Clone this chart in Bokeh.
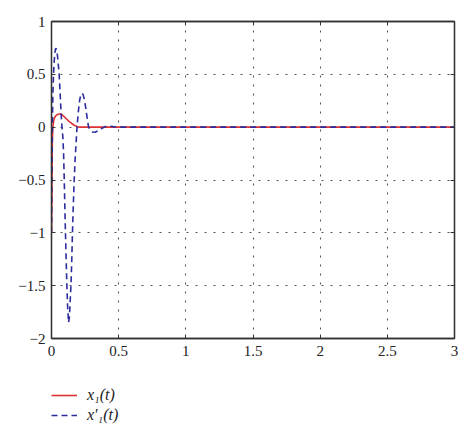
from bokeh.plotting import figure
from bokeh.layouts import column
from bokeh.models import Legend, LinearAxis, FixedTicker, CustomJSTickFormatter, Range1d
from bokeh.embed import file_html
from bokeh.resources import INLINE

# values
t_x1 = [0, 0.003, 0.006, 0.01, 0.015, 0.02, 0.03, 0.04, 0.05, 0.06, 0.065,
        0.075, 0.09, 0.11, 0.13, 0.15, 0.17, 0.19, 0.21, 0.25, 0.5, 1.0, 2.0, 3.0]
x1 = [-1.0, -0.6, -0.15, 0.0, 0.05, 0.08, 0.105, 0.118, 0.123, 0.125, 0.125,
      0.12, 0.105, 0.08, 0.055, 0.035, 0.018, 0.007, 0.0, 0.0, 0.0, 0.0, 0.0, 0.0]

t_dx1 = [0, 0.003, 0.006, 0.01, 0.015, 0.02, 0.025, 0.03, 0.035, 0.04, 0.045,
         0.05, 0.057, 0.065, 0.072, 0.078, 0.085, 0.09, 0.095, 0.1, 0.105, 0.11,
         0.115, 0.12, 0.127, 0.133, 0.14, 0.145, 0.15, 0.156, 0.162, 0.169,
         0.176, 0.184, 0.19, 0.2, 0.21, 0.22, 0.227, 0.235, 0.245, 0.255, 0.265,
         0.276, 0.29, 0.305, 0.325, 0.345, 0.37, 0.4, 0.43, 0.46, 0.5, 0.6,
         1.0, 1.5, 2.0, 2.5, 3.0]
dx1 = [-1.0, -0.55, -0.05, 0.3, 0.5, 0.62, 0.7, 0.74, 0.745, 0.72, 0.67,
       0.6, 0.5, 0.3, 0.12, 0.0, -0.1, -0.25, -0.5, -0.8, -1.05, -1.3,
       -1.52, -1.7, -1.85, -1.8, -1.62, -1.5, -1.3, -1.0, -0.75, -0.5,
       -0.3, -0.13, 0.0, 0.15, 0.26, 0.31, 0.32, 0.31, 0.26, 0.18, 0.09,
       0.0, -0.03, -0.045, -0.048, -0.035, -0.015, 0.005, 0.01, 0.005, 0.0, 0.0,
       0.0, 0.0, 0.0, 0.0, 0.0]

x_ticks = [0, 0.5, 1, 1.5, 2, 2.5, 3]
y_ticks = [-2, -1.5, -1, -0.5, 0, 0.5, 1]
labels = ["x\u2081(t)", "x\u2032\u2081(t)"]

FONT = "Liberation Serif"
AXIS_COLOR = "#333333"
RED = "#dd3333"
BLUE = "#2c2c9e"

p = figure(width=458, height=372, output_backend="svg", toolbar_location=None,
           x_range=Range1d(0, 3), y_range=Range1d(-2, 1),
           min_border_left=51, min_border_right=4, min_border_top=21,
           min_border_bottom=34)

minus_fmt = CustomJSTickFormatter(code="""
    return tick < 0 ? "\u2212" + String(Math.abs(tick)) : String(tick);
""")
blank_fmt = CustomJSTickFormatter(code='return "";')

p.outline_line_color = AXIS_COLOR
p.outline_line_width = 1.3

for ax in [p.xaxis[0], p.yaxis[0]]:
    ax.formatter = minus_fmt
    ax.axis_line_color = AXIS_COLOR
    ax.axis_line_width = 1.3
    ax.major_tick_in = 4
    ax.major_tick_out = 0
    ax.major_tick_line_color = AXIS_COLOR
    ax.minor_tick_line_color = None
    ax.major_label_text_font = FONT
    ax.major_label_text_font_size = "15px"
    ax.major_label_text_color = "#222222"
p.xaxis[0].ticker = FixedTicker(ticks=x_ticks)
p.yaxis[0].ticker = FixedTicker(ticks=y_ticks)
p.xaxis[0].major_label_standoff = 7
p.yaxis[0].major_label_standoff = 6

# box ticks on top and right, no labels
top = LinearAxis(ticker=FixedTicker(ticks=x_ticks), formatter=blank_fmt)
right = LinearAxis(ticker=FixedTicker(ticks=y_ticks), formatter=blank_fmt)
for ax in [top, right]:
    ax.axis_line_color = AXIS_COLOR
    ax.axis_line_width = 1.3
    ax.major_tick_in = 4
    ax.major_tick_out = 0
    ax.major_tick_line_color = AXIS_COLOR
    ax.minor_tick_line_color = None
    ax.major_label_standoff = 0
p.add_layout(top, "above")
p.add_layout(right, "right")

p.xgrid.ticker = FixedTicker(ticks=x_ticks)
p.ygrid.ticker = FixedTicker(ticks=y_ticks)
for g in [p.xgrid, p.ygrid]:
    g.grid_line_color = "#555555"
    g.grid_line_dash = "2 7"
    g.grid_line_width = 1.1

p.line(t_x1, x1, line_color=RED, line_width=1.6)
p.line(t_dx1, dx1, line_color=BLUE, line_width=1.6, line_dash="6 4")

# legend lives in a strip below the plot (annotations inside the frame get clipped)
leg = figure(width=458, height=60, output_backend="svg", toolbar_location=None,
             x_range=Range1d(10, 11), y_range=Range1d(10, 11),
             min_border=0, outline_line_color=None)
leg.axis.visible = False
leg.grid.visible = False
l1 = leg.line(t_x1, x1, line_color=RED, line_width=1.6)
l2 = leg.line(t_dx1, dx1, line_color=BLUE, line_width=1.6, line_dash="6 4")

legend = Legend(items=[(labels[0], [l1]), (labels[1], [l2])],
                location=(0, 8), orientation="vertical")
legend.margin = 0
legend.padding = 0
legend.spacing = 2
legend.glyph_width = 26
legend.glyph_height = 16
legend.label_height = 16
legend.label_standoff = 10
legend.label_text_font = FONT
legend.label_text_font_style = "italic"
legend.label_text_font_size = "16px"
legend.label_text_color = "#222222"
legend.border_line_alpha = 0
legend.background_fill_alpha = 0
leg.add_layout(legend, "center")

open("out.html", "w").write(file_html(column(p, leg), INLINE))
